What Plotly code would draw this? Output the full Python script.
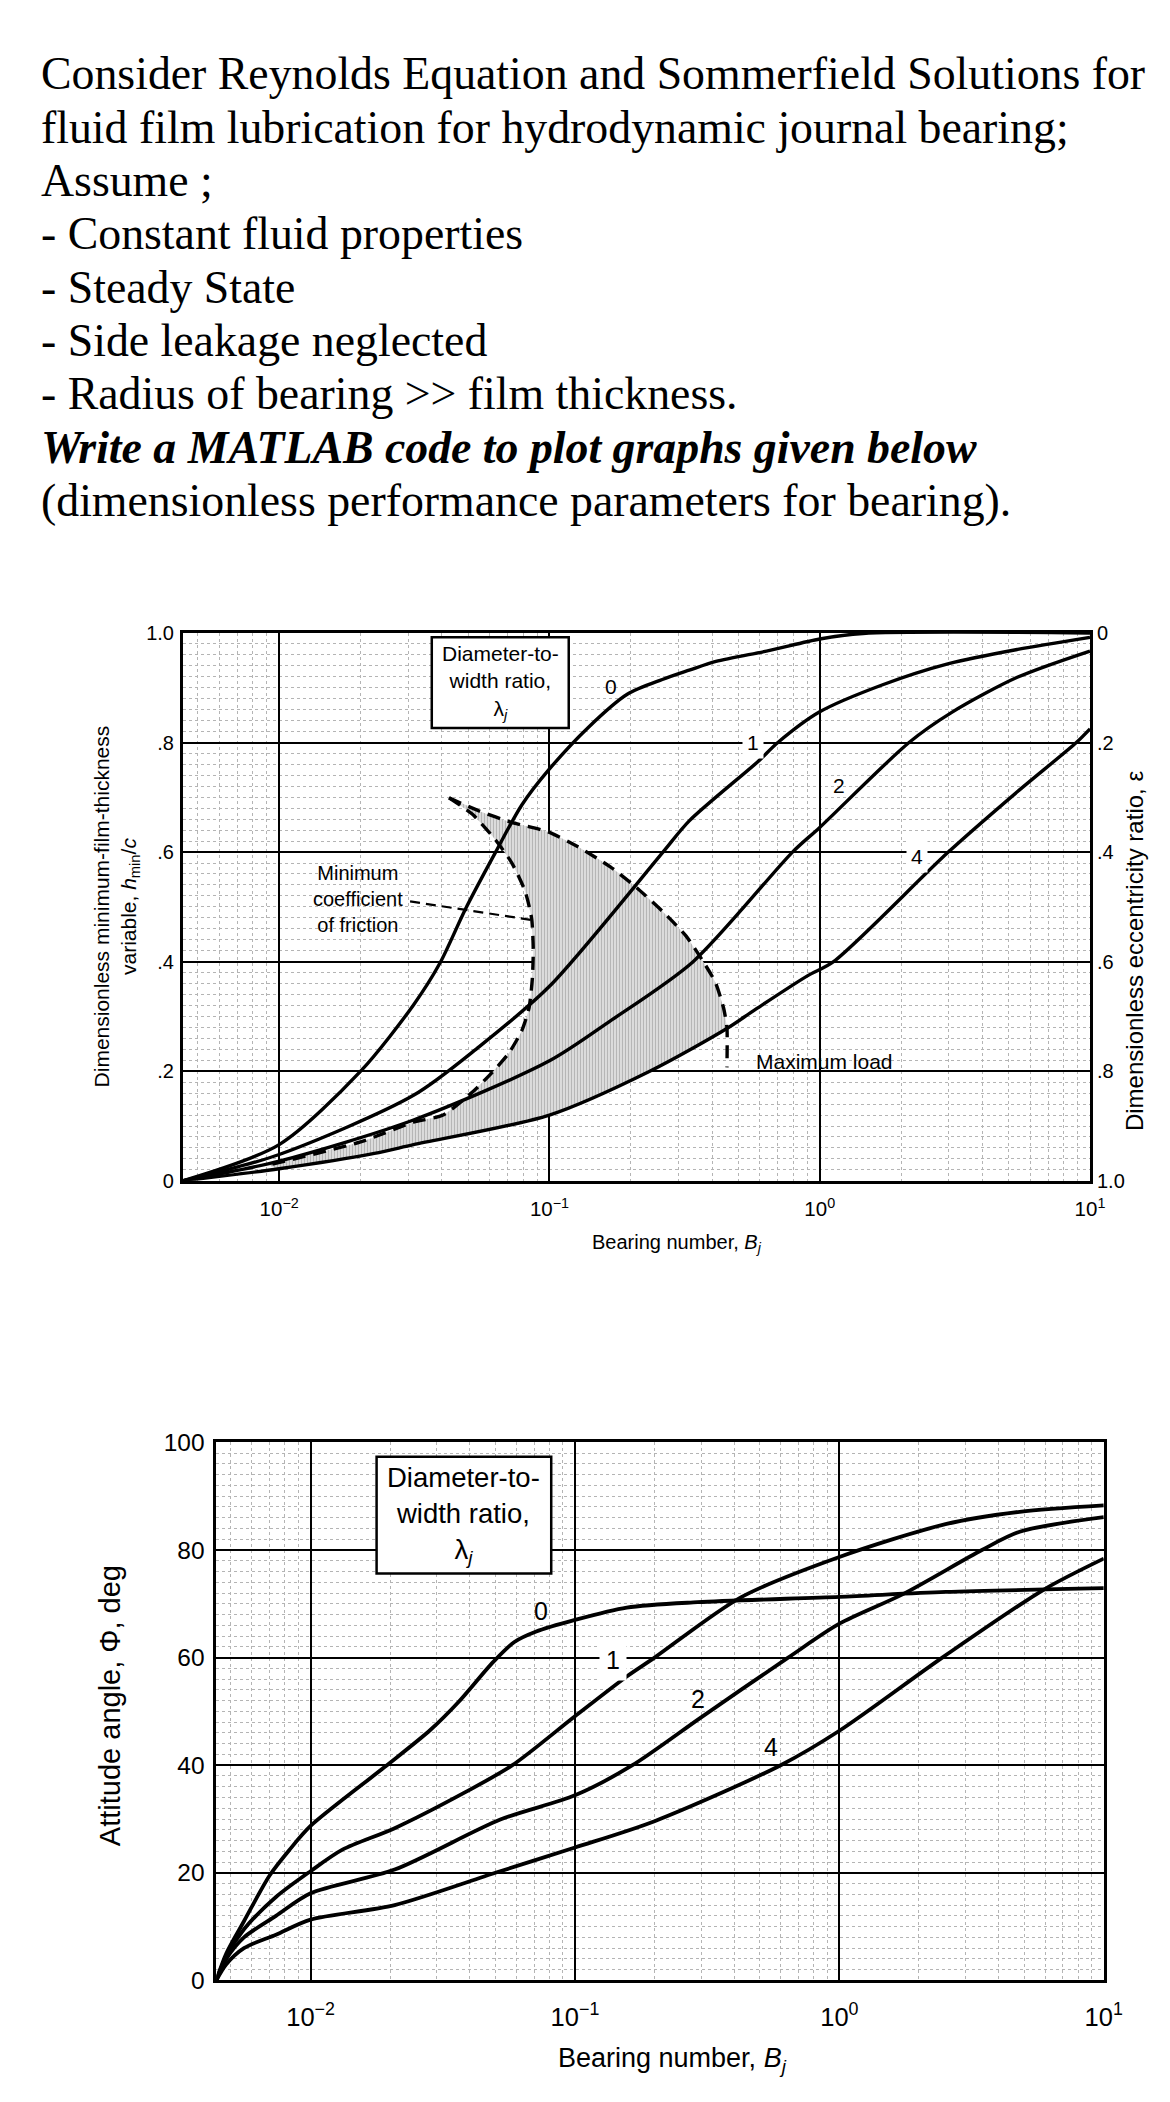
import numpy as np
import plotly.graph_objects as go

W, H = 1170, 2102

# ---------------- Top chart: dimensionless minimum film thickness h_min/c ----------------
B_T0 = [0.0044, 0.01, 0.0201, 0.0314, 0.0393, 0.0491, 0.0632, 0.079, 0.0993, 0.1395, 0.194, 0.2616, 0.329, 0.413, 0.653, 1.0, 1.445, 10.0]
H_T0 = [0.0, 0.066, 0.201, 0.321, 0.397, 0.498, 0.600, 0.686, 0.750, 0.828, 0.888, 0.915, 0.932, 0.948, 0.968, 0.989, 0.999, 1.0]

B_T1 = [0.0044, 0.01, 0.0314, 0.055, 0.1, 0.263, 0.329, 0.59, 0.70, 1.0, 1.7, 3.0, 5.4, 10.0]
H_T1 = [0.0, 0.048, 0.156, 0.245, 0.355, 0.600, 0.657, 0.765, 0.800, 0.856, 0.905, 0.944, 0.970, 0.992]

B_T2 = [0.0044, 0.01, 0.0314, 0.1, 0.168, 0.34, 0.793, 1.0, 2.14, 3.08, 5.38, 10.0]
H_T2 = [0.0, 0.036, 0.111, 0.219, 0.292, 0.400, 0.600, 0.645, 0.800, 0.855, 0.919, 0.967]

B_T4 = [0.0044, 0.01, 0.0225, 0.0314, 0.1, 0.235, 0.4533, 0.575, 0.9, 1.125, 2.99, 5.38, 8.9, 10.0]
H_T4 = [0.0, 0.022, 0.05, 0.066, 0.12, 0.200, 0.278, 0.312, 0.374, 0.400, 0.600, 0.710, 0.800, 0.825]

# minimum coefficient of friction (dashed)
FRIC_B = [0.0425, 0.0519, 0.0632, 0.0726, 0.0812, 0.0859, 0.0871, 0.0864, 0.084, 0.079, 0.0707, 0.0614, 0.0519, 0.0404, 0.0314, 0.02, 0.0092]
FRIC_H = [0.699, 0.669, 0.622, 0.580, 0.529, 0.479, 0.422, 0.368, 0.315, 0.274, 0.233, 0.198, 0.162, 0.120, 0.107, 0.071, 0.029]
# maximum load (dashed)
LOAD_B = [0.0425, 0.0549, 0.0726, 0.0988, 0.127, 0.168, 0.2103, 0.263, 0.3199, 0.3675, 0.4113, 0.441, 0.4535, 0.4535]
LOAD_H = [0.699, 0.675, 0.654, 0.637, 0.610, 0.573, 0.535, 0.491, 0.447, 0.403, 0.362, 0.315, 0.280, 0.207]
# leader line from "Minimum coefficient of friction" label
LEAD_B = [0.0305, 0.044, 0.0632, 0.0859]
LEAD_H = [0.510, 0.498, 0.486, 0.476]

# ---------------- Bottom chart: attitude angle (deg) ----------------
B_B0 = [0.0044, 0.0048, 0.0056, 0.0070, 0.0083, 0.01, 0.019, 0.0283, 0.0362, 0.0491, 0.059, 0.071, 0.1, 0.157, 0.291, 1.0, 2.52, 10.0]
P_B0 = [0, 5, 11, 19.5, 24.2, 28.7, 39.6, 46.5, 51.7, 59.2, 62.9, 64.8, 67.0, 69.3, 70.3, 71.3, 72.2, 72.9]

B_B1 = [0.0044, 0.0048, 0.0056, 0.0074, 0.01, 0.0132, 0.0208, 0.0385, 0.058, 0.1, 0.157, 0.2, 0.424, 1.0, 2.52, 4.81, 10.0]
P_B1 = [0, 4.5, 9.5, 15.5, 20.3, 24.3, 28.3, 35.0, 40.0, 49.1, 56.5, 60.0, 71.2, 78.7, 84.8, 87.1, 88.3]

B_B2 = [0.0044, 0.0048, 0.0056, 0.0074, 0.01, 0.0208, 0.0522, 0.1, 0.165, 0.3, 0.64, 1.0, 1.74, 3.46, 4.81, 10.0]
P_B2 = [0, 4, 8, 12, 16.2, 20.6, 29.9, 34.4, 40.0, 48.9, 60.0, 66.3, 71.8, 80.0, 83.4, 86.1]

B_B4 = [0.0044, 0.0048, 0.0056, 0.0074, 0.01, 0.0208, 0.05, 0.1, 0.2, 0.6, 1.0, 2.45, 5.96, 10.0]
P_B4 = [0, 3, 6, 8.5, 11.3, 14.0, 20.0, 24.7, 29.6, 40.0, 46.4, 60.0, 72.7, 78.4]

# tick labels
X_TICKS = [0.01, 0.1, 1, 10]
X_TICKTEXT = ["10<sup>\u22122</sup>", "10<sup>\u22121</sup>", "10<sup>0</sup>", "10<sup>1</sup>"]
H_TICKS = [0, 0.2, 0.4, 0.6, 0.8, 1.0]
H_TICKTEXT = ["0", ".2", ".4", ".6", ".8", "1.0"]
E_TICKTEXT = ["0", ".2", ".4", ".6", ".8", "1.0"]
P_TICKS = [0, 20, 40, 60, 80, 100]

# curve labels (lambda_j): text, B, value, gap in gridline behind it
TOP_LABELS = [("0", 0.169, 0.903, False), ("1", 0.567, 0.800, True), ("2", 1.174, 0.721, False), ("4", 2.30, 0.592, True)]
BOT_LABELS = [("0", 0.0743, 68.7, False), ("1", 0.139, 59.6, True), ("2", 0.291, 52.3, False), ("4", 0.552, 43.4, False)]

TEXT_LINES = [
    "Consider Reynolds Equation and Sommerfield Solutions for",
    "fluid film lubrication for hydrodynamic journal bearing;",
    "Assume ;",
    "- Constant fluid properties",
    "- Steady State",
    "- Side leakage neglected",
    "- Radius of bearing &gt;&gt; film thickness.",
    "<b><i>Write a MATLAB code to plot graphs given below</i></b>",
    "(dimensionless performance parameters for bearing).",
]
TEXT_SIZE = 45.8

SANS = "Liberation Sans, Arial, Helvetica, sans-serif"
SERIF = "Liberation Serif, Times New Roman, serif"
XLOG_MIN = -2.356


def fx(p):
    return p / W


def fy(p):
    return 1 - p / H


fig = go.Figure()

# shaded region between the two dashed curves, bounded below by lambda=4 curve
lb, lh = np.array(LOAD_B), np.array(LOAD_H)
fb, fh = np.array(FRIC_B), np.array(FRIC_H)
b4, h4 = np.array(B_T4), np.array(H_T4)
m = (b4 < lb[-2] + 1e-9) & (b4 > fb[-1])
poly_b = np.concatenate([lb[:-1], b4[m][::-1], fb[::-1]])
poly_h = np.concatenate([lh[:-1], h4[m][::-1], fh[::-1]])
fig.add_trace(go.Scatter(
    x=poly_b, y=poly_h, mode="lines", fill="toself", line=dict(width=0, shape="spline", smoothing=0.5),
    fillcolor="#dcdcdc",
    fillpattern=dict(shape="|", fgcolor="#8a8a8a", bgcolor="#e0e0e0", size=3, solidity=0.4),
    hoverinfo="skip", showlegend=False, xaxis="x", yaxis="y"))

solid = dict(color="black", width=3.4, shape="spline", smoothing=0.8)
for b, h in [(B_T0, H_T0), (B_T1, H_T1), (B_T2, H_T2), (B_T4, H_T4)]:
    fig.add_trace(go.Scatter(x=b, y=h, mode="lines", line=solid, hoverinfo="skip",
                             showlegend=False, xaxis="x", yaxis="y"))

dashed = dict(color="black", width=3.4, dash="13px,8px", shape="spline", smoothing=0.6)
for b, h in [(FRIC_B, FRIC_H), (LOAD_B, LOAD_H)]:
    fig.add_trace(go.Scatter(x=b, y=h, mode="lines", line=dashed, hoverinfo="skip",
                             showlegend=False, xaxis="x", yaxis="y"))
fig.add_trace(go.Scatter(x=LEAD_B, y=LEAD_H, mode="lines",
                         line=dict(color="black", width=2.2, dash="10px,6px"),
                         hoverinfo="skip", showlegend=False, xaxis="x", yaxis="y"))

# invisible trace so the right-hand eccentricity axis is drawn
fig.add_trace(go.Scatter(x=[0.1], y=[0.5], mode="markers", marker=dict(opacity=0),
                         hoverinfo="skip", showlegend=False, xaxis="x", yaxis="y3"))

for b, p in [(B_B0, P_B0), (B_B1, P_B1), (B_B2, P_B2), (B_B4, P_B4)]:
    fig.add_trace(go.Scatter(x=b, y=p, mode="lines", line=dict(color="black", width=3.8, shape="spline", smoothing=0.8),
                             hoverinfo="skip", showlegend=False, xaxis="x2", yaxis="y2"))

minor_log = dict(tickvals=[k * 10.0 ** e for e in (-3, -2, -1, 0) for k in range(2, 10)],
                 showgrid=True, gridcolor="#b4b4b4", griddash="dot", gridwidth=1, ticks="")


def xaxis_cfg(domain, anchor, size, standoff):
    return dict(domain=domain, anchor=anchor, type="log", range=[XLOG_MIN, 1],
                tickvals=X_TICKS, ticktext=X_TICKTEXT, tickfont=dict(family=SANS, size=size, color="black"),
                showgrid=True, gridcolor="black", gridwidth=2, showline=True, linecolor="black",
                linewidth=3, mirror=True, ticks="", zeroline=False, minor=minor_log,
                ticklabelstandoff=standoff)


fig.update_layout(
    width=W, height=H, autosize=False,
    margin=dict(l=0, r=0, t=0, b=0),
    paper_bgcolor="white", plot_bgcolor="white",
    font=dict(family=SANS, color="black"),
    showlegend=False,
    xaxis=xaxis_cfg([fx(186), fx(1108)], "y", 20.5, 8),
    yaxis=dict(domain=[fy(1183), fy(628)], anchor="x", range=[0, 1],
               tickvals=H_TICKS, ticktext=H_TICKTEXT, tickfont=dict(family=SANS, size=20, color="black"),
               showgrid=True, gridcolor="black", gridwidth=2, showline=True, linecolor="black",
               linewidth=3, mirror=True, ticks="", zeroline=False, ticklabelstandoff=2,
               minor=dict(dtick=0.02, showgrid=True, gridcolor="#b4b4b4", griddash="dot", gridwidth=1, ticks="")),
    yaxis3=dict(overlaying="y", side="right", anchor="x", range=[1, 0],
                tickvals=H_TICKS, ticktext=E_TICKTEXT, tickfont=dict(family=SANS, size=20, color="black"),
                showgrid=False, showline=False, ticks="", zeroline=False, ticklabelstandoff=6),
    xaxis2=xaxis_cfg([fx(220), fx(1122)], "y2", 25.5, 12),
    yaxis2=dict(domain=[fy(1993), fy(1448)], anchor="x2", range=[0, 100],
                tickvals=P_TICKS, tickfont=dict(family=SANS, size=24.5, color="black"),
                showgrid=True, gridcolor="black", gridwidth=2, showline=True, linecolor="black",
                linewidth=3, mirror=True, ticks="", zeroline=False, ticklabelstandoff=4,
                minor=dict(dtick=2, showgrid=True, gridcolor="#b4b4b4", griddash="dot", gridwidth=1, ticks="")),
)

shapes = [
    dict(type="rect", xref="x domain", yref="y domain", x0=0.2743, x1=0.4253, y0=0.8263, y1=0.9919,
         line=dict(color="black", width=2.5), fillcolor="white", layer="above"),
    dict(type="rect", xref="x2 domain", yref="y2 domain", x0=0.1805, x1=0.3773, y0=0.7563, y1=0.9734,
         line=dict(color="black", width=2.5), fillcolor="white", layer="above"),
]
fig.update_layout(shapes=shapes)

ann = []


def add(**kw):
    kw.setdefault("showarrow", False)
    kw.setdefault("xanchor", "center")
    kw.setdefault("yanchor", "middle")
    ann.append(kw)


# heading text
for i, line in enumerate(TEXT_LINES):
    base = 79.6 + 54.05 * i
    add(xref="paper", yref="paper", x=fx(40), y=fy(base - 18), xanchor="left",
        text=line, font=dict(family=SERIF, size=TEXT_SIZE, color="black"))

# legend box texts
add(xref="x domain", yref="y domain", x=(0.2743 + 0.4253) / 2, y=(0.8263 + 0.9919) / 2,
    text="Diameter-to-<br>width ratio,<br>\u03bb<sub><i>j</i></sub>",
    font=dict(family=SANS, size=21, color="black"))
add(xref="x2 domain", yref="y2 domain", x=(0.1805 + 0.3773) / 2, y=(0.7563 + 0.9734) / 2,
    text="Diameter-to-<br>width ratio,<br>\u03bb<sub><i>j</i></sub>",
    font=dict(family=SANS, size=27.5, color="black"))

# curve labels
for t, bx, hy, gap in TOP_LABELS:
    add(xref="x", yref="y", x=np.log10(bx), y=hy, text=t,
        font=dict(family=SANS, size=21, color="black"),
        bgcolor="white" if gap else "rgba(0,0,0,0)", borderpad=4)
for t, bx, py, gap in BOT_LABELS:
    add(xref="x2", yref="y2", x=np.log10(bx), y=py, text=t,
        font=dict(family=SANS, size=25, color="black"),
        bgcolor="white" if gap else "rgba(0,0,0,0)", borderpad=6)

add(xref="x", yref="y", x=np.log10(0.0196), y=0.514, text="Minimum<br>coefficient<br>of friction",
    align="center", font=dict(family=SANS, size=20, color="black"))
add(xref="x", yref="y", x=np.log10(0.57), y=0.218, text="Maximum load", xanchor="left",
    font=dict(family=SANS, size=21, color="black"))

# axis titles
add(xref="paper", yref="paper", x=fx(119), y=fy(905), textangle=-90,
    text="Dimensionless minimum-film-thickness<br>variable, <i>h</i><sub>min</sub>/<i>c</i>",
    font=dict(family=SANS, size=21, color="black"))
add(xref="paper", yref="paper", x=fx(1154), y=fy(950), textangle=-90,
    text="Dimensionless eccentricity ratio, \u03b5",
    font=dict(family=SANS, size=24, color="black"))
add(xref="paper", yref="paper", x=fx(688), y=fy(1247),
    text="Bearing number, <i>B</i><sub><i>j</i></sub>",
    font=dict(family=SANS, size=20, color="black"))
add(xref="paper", yref="paper", x=fx(112), y=fy(1715), textangle=-90,
    text="Attitude angle, \u03a6, deg",
    font=dict(family=SANS, size=29, color="black"))
add(xref="paper", yref="paper", x=fx(684), y=fy(2074),
    text="Bearing number, <i>B</i><sub><i>j</i></sub>",
    font=dict(family=SANS, size=27, color="black"))

fig.update_layout(annotations=ann)

POST = (
    "var st=document.createElement('style');"
    "st.innerHTML='html,body{margin:0 !important;padding:0 !important;overflow:hidden !important;}"
    " .plotly-graph-div,.svg-container,.main-svg{overflow:hidden !important;}';"
    "document.head.appendChild(st);"
    "document.body.style.margin='0px';"
)
fig.write_html("out.html", config={"displayModeBar": False}, post_script=POST)
